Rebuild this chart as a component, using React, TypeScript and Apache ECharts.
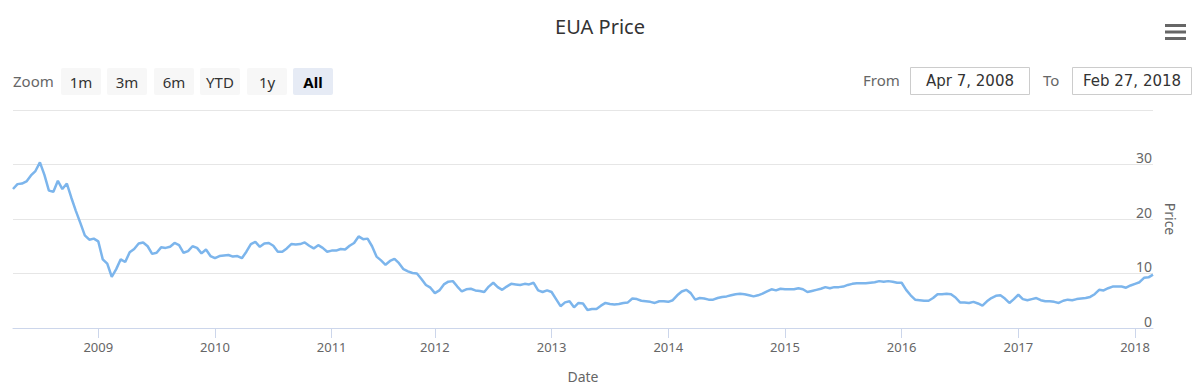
import React, { useEffect, useRef } from 'react';
import * as echarts from 'echarts';

const years = [2008, 2009, 2010, 2011, 2012, 2013, 2014, 2015, 2016, 2017, 2018];
const price2008 = [25.5, 26.4, 26.5, 26.9, 28.0, 28.8, 30.4, 28.1, 25.2, 25.0, 27.0, 25.5, 26.5, 23.9, 21.5, 19.3, 17.0, 16.2, 16.4];
const price2009 = [15.9, 12.6, 11.8, 9.4, 10.8, 12.6, 12.1, 13.9, 14.5, 15.5, 15.7, 15.0, 13.6, 13.8, 14.8, 14.7, 14.9, 15.6, 15.2, 13.8, 14.1, 15.0, 14.7, 13.7, 14.4, 13.2];
const price2010 = [12.8, 13.2, 13.3, 13.4, 13.1, 13.2, 12.8, 14.0, 15.4, 15.8, 14.9, 15.5, 15.6, 15.1, 14.0, 14.0, 14.6, 15.4, 15.3, 15.4, 15.7, 15.1, 14.6, 15.2, 14.7, 14.0];
const price2011 = [14.2, 14.2, 14.5, 14.4, 15.1, 15.6, 16.8, 16.3, 16.4, 15.0, 13.1, 12.4, 11.6, 12.3, 12.7, 11.9, 10.8, 10.4, 10.1, 10.0, 9.0, 7.9, 7.4];
const price2012 = [6.4, 6.9, 8.0, 8.5, 8.6, 7.6, 6.7, 7.1, 7.2, 6.9, 6.8, 6.6, 7.6, 8.3, 7.5, 7.0, 7.6, 8.1, 8.0, 7.9, 8.1, 8.0, 8.3, 6.9, 6.6, 6.9];
const price2013 = [6.6, 5.3, 4.0, 4.7, 4.9, 3.8, 4.6, 4.5, 3.3, 3.5, 3.5, 4.1, 4.6, 4.4, 4.3, 4.4, 4.6, 4.7, 5.4, 5.3, 5.0, 4.9, 4.8, 4.6, 4.9, 4.9];
const price2014 = [4.8, 5.1, 6.0, 6.7, 7.0, 6.4, 5.2, 5.5, 5.4, 5.2, 5.2, 5.5, 5.7, 5.8, 6.0, 6.2, 6.3, 6.2, 6.0, 5.8, 6.0, 6.3, 6.7, 7.1, 6.9, 7.2];
const price2015 = [7.1, 7.1, 7.1, 7.3, 7.1, 6.6, 6.8, 7.0, 7.2, 7.5, 7.3, 7.5, 7.5, 7.6, 7.9, 8.1, 8.2, 8.2, 8.2, 8.3, 8.4, 8.6, 8.5, 8.6, 8.5, 8.3];
const price2016 = [8.3, 7.0, 6.0, 5.2, 5.1, 5.0, 5.0, 5.5, 6.2, 6.2, 6.3, 6.2, 5.6, 4.7, 4.7, 4.6, 4.8, 4.5, 4.1, 4.9, 5.5, 5.9, 6.0, 5.4, 4.6, 5.3];
const price2017 = [6.1, 5.3, 5.1, 5.3, 5.5, 5.1, 4.9, 4.9, 4.8, 4.6, 5.0, 5.2, 5.1, 5.3, 5.4, 5.5, 5.7, 6.2, 7.0, 6.9, 7.3, 7.6, 7.6, 7.6, 7.4, 7.8];
const price2018 = [8.1, 8.4, 9.2, 9.3, 9.8];
const pricesByYear = [price2008, price2009, price2010, price2011, price2012, price2013, price2014, price2015, price2016, price2017, price2018];

const yTicks = [0, 10, 20, 30, 40];
const zoomButtons = ['1m', '3m', '6m', 'YTD', '1y', 'All'];
const fromDate = 'Apr 7, 2008';
const toDate = 'Feb 27, 2018';

const FONT = '"Noto Sans", "DejaVu Sans", sans-serif';
const INPUT_FONT = '"DejaVu Sans", sans-serif';

export default function App() {
  const ref = useRef<HTMLDivElement>(null);
  useEffect(() => {
    const chart = echarts.init(ref.current!, null, { renderer: 'svg' });

    const categories: string[] = [];
    const values: number[] = [];
    const yearStart = new Set<number>();
    pricesByYear.forEach((arr, yi) => {
      arr.forEach((v, k) => {
        if (k === 0 && yi > 0) yearStart.add(categories.length);
        categories.push(`${years[yi]}-${k}`);
        values.push(v);
      });
    });
    const showIdx = (i: number) => yearStart.has(i);

    const graphic: any[] = [];
    graphic.push({
      type: 'text', x: 13, y: 81,
      style: { text: 'Zoom', fill: '#666666', fontSize: 15, fontFamily: FONT, align: 'left', verticalAlign: 'middle' },
    });
    zoomButtons.forEach((b, i) => {
      const xs = [61, 107, 154, 200, 247, 293][i];
      const selected = b === 'All';
      graphic.push({
        type: 'rect', shape: { x: xs, y: 68, width: 40, height: 27, r: 2 },
        style: { fill: selected ? '#e6ebf5' : '#f7f7f7', stroke: 'none' },
      });
      graphic.push({
        type: 'text', x: xs + 20, y: 81.5,
        style: { text: b, fill: selected ? '#000000' : '#333333', fontWeight: selected ? 'bold' : 'normal', fontSize: 15, fontFamily: FONT, align: 'center', verticalAlign: 'middle' },
      });
    });
    graphic.push({
      type: 'text', x: 863, y: 80,
      style: { text: 'From', fill: '#666666', fontSize: 15, fontFamily: FONT, align: 'left', verticalAlign: 'middle' },
    });
    graphic.push({
      type: 'text', x: 1043, y: 80,
      style: { text: 'To', fill: '#666666', fontSize: 15, fontFamily: FONT, align: 'left', verticalAlign: 'middle' },
    });
    [[910.5, fromDate], [1072.5, toDate]].forEach(([x, t]: any) => {
      graphic.push({
        type: 'rect', shape: { x, y: 67.5, width: 119, height: 27 },
        style: { fill: '#ffffff', stroke: '#cccccc', lineWidth: 1 },
      });
      graphic.push({
        type: 'text', x: x + 59.5, y: 81,
        style: { text: t, fill: '#333333', fontSize: 15, fontFamily: INPUT_FONT, align: 'center', verticalAlign: 'middle' },
      });
    });
    [24, 30.5, 37].forEach((y) => {
      graphic.push({
        type: 'rect', shape: { x: 1165, y, width: 21, height: 3 },
        style: { fill: '#666666' },
      });
    });

    chart.setOption({
      animation: false,
      backgroundColor: '#ffffff',
      title: {
        text: 'EUA Price', left: 'center', top: 11,
        textStyle: { fontFamily: FONT, fontSize: 20, fontWeight: 'normal', color: '#333333' },
      },
      grid: { left: 13, right: 47, top: 110, bottom: 64 },
      xAxis: {
        type: 'category',
        data: categories,
        boundaryGap: false,
        name: 'Date',
        nameLocation: 'middle',
        nameGap: 41,
        nameTextStyle: { fontFamily: FONT, fontSize: 14, color: '#666666' },
        axisLine: { lineStyle: { color: '#ccd6eb', width: 1 } },
        axisTick: { interval: showIdx, length: 10, lineStyle: { color: '#ccd6eb' } },
        axisLabel: {
          interval: showIdx,
          formatter: (v: string) => v.split('-')[0],
          fontFamily: FONT, fontSize: 13, color: '#666666', margin: 12,
        },
        splitLine: { show: false },
      },
      yAxis: {
        type: 'value',
        position: 'right',
        min: yTicks[0],
        max: yTicks[yTicks.length - 1],
        interval: 10,
        name: 'Price',
        nameLocation: 'middle',
        nameRotate: -90,
        nameGap: 10,
        nameTextStyle: { fontFamily: FONT, fontSize: 14, color: '#666666' },
        axisLine: { show: false },
        axisTick: { show: false },
        axisLabel: {
          inside: true, showMaxLabel: false, margin: 1,
          verticalAlign: 'bottom', padding: [0, 0, 0, 0],
          fontFamily: FONT, fontSize: 14, color: '#666666',
        },
        splitLine: { lineStyle: { color: '#e6e6e6', width: 1 } },
      },
      series: [{
        type: 'line',
        data: values,
        showSymbol: false,
        lineStyle: { color: '#7cb5ec', width: 2.5 },
        itemStyle: { color: '#7cb5ec' },
      }],
      graphic,
    });
    return () => chart.dispose();
  }, []);
  return <div ref={ref} style={{ position: 'fixed', left: 0, top: 0, width: 1200, height: 392 }} />;
}
